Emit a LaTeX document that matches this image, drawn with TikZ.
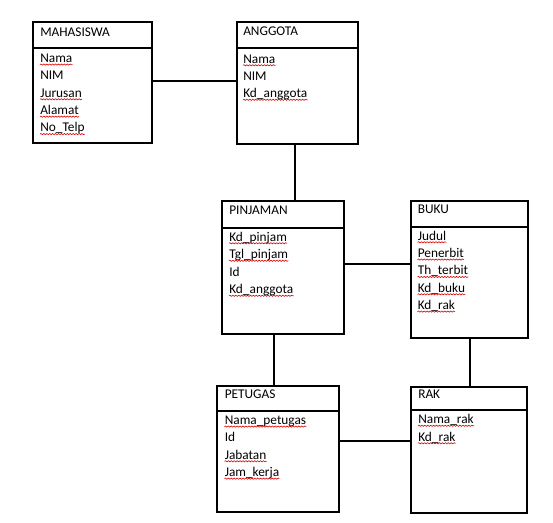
\documentclass[tikz,border=0pt]{standalone}
\usepackage{fontspec}
\setmainfont{Carlito}
\usetikzlibrary{fit,decorations.pathmorphing}
\newcommand{\fieldu}[4]{\node[field] (#1) at (#2,#3) {#4};
  \draw[spell] ([yshift=-1.7pt]#1.base west) -- ([yshift=-1.7pt]#1.base east);}
\newcommand{\fieldn}[4]{\node[field] (#1) at (#2,#3) {#4};}
\begin{document}
\begin{tikzpicture}[x=0.75pt,y=-0.75pt,
  entity/.style={draw,line width=0.9pt,inner sep=0pt},
  field/.style={anchor=base west,inner sep=0pt,font=\fontsize{10}{12}\selectfont},
  rel/.style={line width=0.9pt},
  spell/.style={draw=red!85!black, line width=0.45pt, decorate,
    decoration={snake,amplitude=0.45pt,segment length=2.2pt}}
]
\useasboundingbox[fill=white] (0,0) rectangle (553,522);

% MAHASISWA
\node[entity, fit={(33,22) (152,143)}] (mhs) {};
\draw[rel] (mhs.west |- 0,48) -- (mhs.east |- 0,48);
\fieldn{mhs-t}{40}{36}{MAHASISWA}
\fieldu{mhs-1}{40}{62.3}{Nama}
\fieldn{mhs-2}{40}{79.7}{NIM}
\fieldu{mhs-3}{40}{97}{Jurusan}
\fieldu{mhs-4}{40}{114.4}{Alamat}
\fieldu{mhs-5}{40}{131.8}{No\_Telp}

% ANGGOTA
\node[entity, fit={(237,22) (358,144)}] (ang) {};
\draw[rel] (ang.west |- 0,48) -- (ang.east |- 0,48);
\fieldn{ang-t}{243}{35.7}{ANGGOTA}
\fieldu{ang-1}{243}{63}{Nama}
\fieldn{ang-2}{243}{80.3}{NIM}
\fieldu{ang-3}{243}{97.5}{Kd\_anggota}

% PINJAMAN
\node[entity, fit={(222,201) (344,334)}] (pin) {};
\draw[rel] (pin.west |- 0,228) -- (pin.east |- 0,228);
\fieldn{pin-t}{229}{214.3}{PINJAMAN}
\fieldu{pin-1}{229}{241}{Kd\_pinjam}
\fieldu{pin-2}{229}{258.5}{Tgl\_pinjam}
\fieldn{pin-3}{229}{276}{Id}
\fieldu{pin-4}{229}{293.5}{Kd\_anggota}

% BUKU
\node[entity, fit={(411,201) (528,338)}] (buku) {};
\draw[rel] (buku.west |- 0,227) -- (buku.east |- 0,227);
\fieldn{buku-t}{417.5}{213.3}{BUKU}
\fieldu{buku-1}{417.5}{240}{Judul}
\fieldu{buku-2}{417.5}{257.3}{Penerbit}
\fieldu{buku-3}{417.5}{274.7}{Th\_terbit}
\fieldu{buku-4}{417.5}{292}{Kd\_buku}
\fieldu{buku-5}{417.5}{309.3}{Kd\_rak}

% PETUGAS
\node[entity, fit={(217,386) (339,512)}] (pet) {};
\draw[rel] (pet.west |- 0,411) -- (pet.east |- 0,411);
\fieldn{pet-t}{224.5}{398.3}{PETUGAS}
\fieldu{pet-1}{224.5}{424.3}{Nama\_petugas}
\fieldn{pet-2}{224.5}{441.7}{Id}
\fieldu{pet-3}{224.5}{459}{Jabatan}
\fieldu{pet-4}{224.5}{476.4}{Jam\_kerja}

% RAK
\node[entity, fit={(411,387) (527,513)}] (rak) {};
\draw[rel] (rak.west |- 0,410) -- (rak.east |- 0,410);
\fieldn{rak-t}{418}{398.3}{RAK}
\fieldu{rak-1}{418}{423.5}{Nama\_rak}
\fieldu{rak-2}{418}{441}{Kd\_rak}

% relations
\draw[rel] (mhs.east |- 0,81) -- (ang.west |- 0,81);
\draw[rel] (ang.south -| 295,0) -- (pin.north -| 295,0);
\draw[rel] (pin.east |- 0,264) -- (buku.west |- 0,264);
\draw[rel] (pin.south -| 274,0) -- (pet.north -| 274,0);
\draw[rel] (buku.south -| 470,0) -- (rak.north -| 470,0);
\draw[rel] (pet.east |- 0,441) -- (rak.west |- 0,441);
\end{tikzpicture}
\end{document}
